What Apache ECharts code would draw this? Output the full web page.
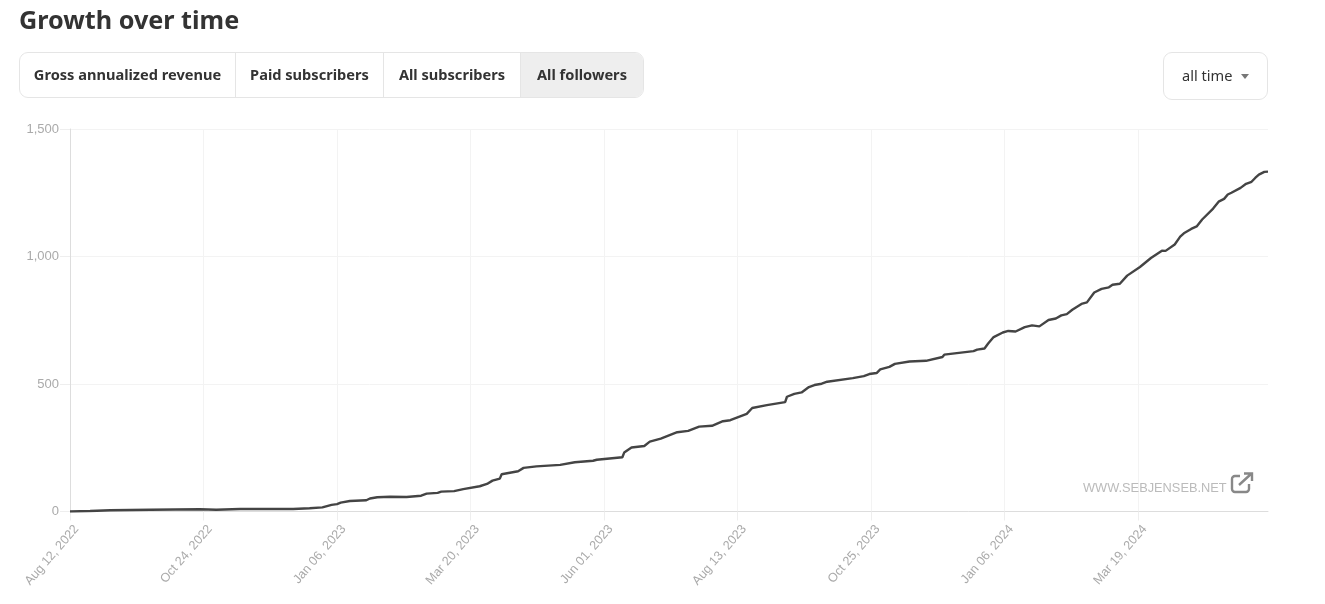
<!DOCTYPE html>
<html lang="en">
<head>
    <meta charset="UTF-8">
    <title>Growth over time</title>
    <script src="https://cdn.jsdelivr.net/npm/echarts@6/dist/echarts.min.js"></script>
    <style>
        html, body { margin: 0; padding: 0; background: #fff; overflow: hidden; }
        body { font-family: 'Noto Sans', sans-serif; color: #333; width: 1325px; height: 604px; position: relative; }
        h1 { position: absolute; left: 19px; top: 2px; margin: 0; font-size: 25.2px; line-height: 34px; font-weight: 700; }
        .tabs { position: absolute; left: 19px; top: 52px; height: 44px; display: flex; border: 1px solid #e5e5e5; border-radius: 9px; overflow: hidden; }
        .tab { line-height: 43px; font-size: 14.6px; font-weight: 700; border-left: 1px solid #e5e5e5; white-space: nowrap; text-align: center; box-sizing: border-box; }
        .tab:first-child { border-left: 0; }
        .tab.active { background: #eee; }
        .range { position: absolute; left: 1163px; top: 52px; width: 103px; height: 46px; border: 1px solid #e5e5e5; border-radius: 9px; line-height: 45px; font-size: 14.6px; text-indent: 18px; }
        .range::after { content: ''; position: absolute; left: 77px; top: 21px; border: 4px solid transparent; border-top: 5px solid #777; }
        #chart { position: absolute; left: 0; top: 0; width: 1325px; height: 604px; }
        .mark { position: absolute; left: 1083px; top: 480px; font: 12.8px 'Liberation Sans', sans-serif; color: #bbb; }
        .mark-icon { position: absolute; left: 1230px; top: 471px; }
    </style>
</head>
<body>
    <div id="chart"></div>
    <h1>Growth over time</h1>
    <div class="tabs">
        <div class="tab" style="width:215px">Gross annualized revenue</div>
        <div class="tab" style="width:148px">Paid subscribers</div>
        <div class="tab" style="width:137px">All subscribers</div>
        <div class="tab active" style="width:123px">All followers</div>
    </div>
    <div class="range">all time</div>
    <div class="mark">WWW.SEBJENSEB.NET</div>
    <svg class="mark-icon" width="24" height="24" viewBox="0 0 24 24" fill="none" stroke="#888" stroke-width="2.4">
        <path d="M10 5H5a3 3 0 0 0-3 3v10a3 3 0 0 0 3 3h11a3 3 0 0 0 3-3v-5"/>
        <path d="M9 14L21 3M14 2.5h8v7.5"/>
    </svg>

    <script>
        // axis labels, one every 73 steps along the x axis
        const tickLabels = ['Aug 12, 2022', 'Oct 24, 2022', 'Jan 06, 2023', 'Mar 20, 2023', 'Jun 01, 2023',
            'Aug 13, 2023', 'Oct 25, 2023', 'Jan 06, 2024', 'Mar 19, 2024'];
        const tickStep = 73;
        const stepCount = 656;

        // followers, step position and value
        const followerSteps = [0, 11, 22, 44, 71, 80, 93, 122, 131, 138, 141, 143, 146, 148, 153, 162, 164, 168, 175, 184,
            192, 195, 201, 203, 210, 215, 224, 228, 231, 235, 236, 239, 245, 248, 255, 268, 276, 286, 288, 302,
            303, 307, 314, 317, 323, 332, 338, 344, 351, 357, 361, 370, 373, 381, 391, 392, 396, 400, 404, 407,
            411, 414, 428, 434, 437, 441, 443, 448, 451, 459, 468, 477, 478, 494, 496, 500, 502, 505, 510, 513,
            517, 522, 526, 530, 535, 539, 542, 545, 548, 553, 556, 560, 564, 568, 570, 574, 578, 585, 591, 597,
            599, 604, 607, 609, 613, 616, 619, 625, 628, 631, 633, 635, 640, 643, 646, 648, 650, 653, 655];
        const followerValues = [0, 2, 5, 7, 9, 7, 10, 10, 13, 16, 22, 26, 29, 35, 41, 44, 51, 56, 58, 57,
            62, 70, 73, 78, 80, 88, 99, 108, 121, 129, 146, 150, 158, 171, 177, 183, 193, 199, 203, 213,
            231, 251, 257, 274, 286, 311, 316, 333, 336, 354, 358, 383, 406, 417, 429, 450, 461, 467, 488, 496,
            501, 509, 523, 531, 539, 543, 557, 567, 579, 588, 591, 606, 615, 629, 635, 639, 659, 684, 702, 708,
            706, 723, 730, 726, 751, 757, 769, 774, 791, 814, 820, 859, 873, 879, 889, 893, 925, 959, 994, 1023,
            1022, 1047, 1078, 1091, 1108, 1118, 1145, 1188, 1215, 1226, 1243, 1250, 1269, 1285, 1293, 1308, 1321, 1332, 1333];

        const categories = [];
        for (let i = 0; i < stepCount; i++) {
            categories.push(i % tickStep === 0 ? tickLabels[i / tickStep] : '');
        }

        const chart = echarts.init(document.getElementById('chart'));
        chart.setOption({
            animation: false,
            grid: { left: 70, right: 57, top: 129, bottom: 92.5 },
            xAxis: {
                type: 'category',
                data: categories,
                boundaryGap: false,
                axisLine: { lineStyle: { color: '#ddd' } },
                axisTick: { interval: tickStep - 1, length: 9, lineStyle: { color: '#eee' } },
                splitLine: { show: true, interval: tickStep - 1, lineStyle: { color: '#f3f3f3' } },
                axisLabel: {
                    interval: tickStep - 1,
                    rotate: 49,
                    margin: 23,
                    padding: [0, -10, 0, 0],
                    fontSize: 12.6,
                    color: '#aaa',
                    fontFamily: 'Liberation Sans'
                }
            },
            yAxis: {
                type: 'value',
                min: 0,
                max: 1500,
                interval: 500,
                axisLine: { show: true, lineStyle: { color: '#ddd' } },
                axisTick: { show: true, length: 10, lineStyle: { color: '#eee' } },
                splitLine: { lineStyle: { color: '#f3f3f3' } },
                axisLabel: {
                    margin: 11,
                    fontSize: 13,
                    color: '#aaa',
                    fontFamily: 'Liberation Sans',
                    formatter: v => v.toLocaleString('en-US')
                }
            },
            series: [{
                type: 'line',
                data: followerSteps.map((s, i) => [s, followerValues[i]]),
                showSymbol: false,
                sampling: 'none',
                lineStyle: { color: '#444', width: 2.4 }
            }]
        });
    </script>
</body>
</html>
